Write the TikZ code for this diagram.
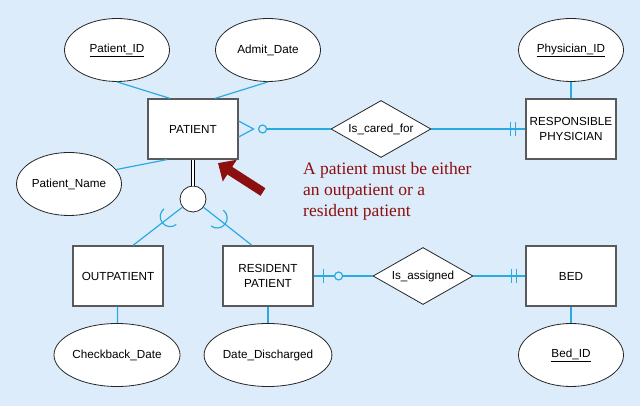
\documentclass[tikz,border=0pt]{standalone}
\usepackage{fontspec}
\setmainfont{Liberation Sans}
\newfontfamily\notefont{Liberation Serif}
\usetikzlibrary{positioning,shapes.geometric,arrows.meta,calc}
\definecolor{bgblue}{RGB}{221,236,251}
\definecolor{linkblue}{RGB}{41,171,226}
\definecolor{notered}{RGB}{140,16,16}
\definecolor{boxgray}{RGB}{90,90,90}

\begin{document}
\begin{tikzpicture}[x=1pt, y=1pt, font=\fontsize{11.7}{15.5}\selectfont,
  entity/.style={draw=boxgray, line width=1.2pt, fill=white, minimum width=90pt, minimum height=60pt, align=center},
  attr/.style={ellipse, draw=black!85, line width=0.8pt, fill=white, minimum width=105pt, minimum height=63pt, inner sep=0pt},
  rel/.style={diamond, aspect=1.77, draw=black!85, line width=0.8pt, fill=white, minimum width=100pt, minimum height=57pt, inner sep=0pt},
  link/.style={draw=linkblue, line width=1.2pt},
  pointer/.style={draw=notered, line width=9pt, -{Triangle[length=14pt,width=25pt]}}]
\fill[bgblue] (0,0) rectangle (640,406);
\useasboundingbox (0,0) rectangle (640,406);
% entities
\node[entity] (pat) at (193,277) {PATIENT};
\node[entity] (phys) at (571,277) {RESPONSIBLE\\PHYSICIAN};
\node[entity] (outp) at (118,130) {OUTPATIENT};
\node[entity] (res) at (268,130) {RESIDENT\\PATIENT};
\node[entity] (bed) at (571,130) {BED};
% attributes
\node[attr] (pid) at (117,356) {\underline{Patient\_ID}};
\node[attr] (adm) at (268,356) {Admit\_Date};
\node[attr] (pnm) at (69,222) {Patient\_Name};
\node[attr] (phid) at (571,356) {\underline{Physician\_ID}};
\node[attr] (chk) at (117,51) {Checkback\_Date};
\node[attr] (dis) at (268,51) {Date\_Discharged};
\node[attr] (bid) at (571,51) {\underline{Bed\_ID}};
% relationships
\node[rel] (care) at (381,277) {Is\_cared\_for};
\node[rel] (asg) at (423,130) {Is\_assigned};
\node[circle, draw=black!85, line width=0.8pt, fill=white, minimum size=26pt, inner sep=0pt] (d) at (193,207) {};

\draw[link] (pid.south) -- ([xshift=-23pt]pat.north);
\draw[link] (adm.south) -- ([xshift=22pt]pat.north);
\draw[link] (pnm.17) -- ([xshift=-26pt]pat.south);
\draw[link] (phid) -- (phys);
\draw[link] (outp) -- (chk);
\draw[link] (res) -- (dis);
\draw[link] (bed) -- (bid);

% patient -- is_cared_for -- physician
\draw[link] ([yshift=8pt]pat.east) -- ([xshift=15pt]pat.east) -- ([yshift=-8pt]pat.east);
\draw[link] ([xshift=24pt]pat.east) -- (care);
\draw[link, fill=bgblue] ([xshift=24pt]pat.east) circle (4pt);
\draw[link] (care) -- (phys);
\draw[link] ([xshift=-15pt,yshift=7pt]phys.west) -- ++(0,-14)
            ([xshift=-10pt,yshift=7pt]phys.west) -- ++(0,-14);

% resident -- is_assigned -- bed
\draw[link] (res) -- (asg);
\draw[link] ([xshift=10pt,yshift=7pt]res.east) -- ++(0,-14);
\draw[link, fill=bgblue] ([xshift=25pt]res.east) circle (4pt);
\draw[link] (asg) -- (bed);
\draw[link] ([xshift=-14pt,yshift=7pt]bed.west) -- ++(0,-14)
            ([xshift=-9pt,yshift=7pt]bed.west) -- ++(0,-14);

% subtypes
\draw[black, double=white, double distance=2.5pt, line width=0.8pt] (pat) -- (d);
\draw[link] (d) -- ([xshift=15pt]outp.north);
\draw[link] (d) -- ([xshift=-16pt]res.north);
\draw[link] ($(d)!0.38!([xshift=15pt]outp.north)$) ++(128:10) arc[start angle=128, end angle=308, radius=10];
\draw[link] ($(d)!0.41!([xshift=-16pt]res.north)$) ++(-128:10) arc[start angle=-128, end angle=52, radius=10];

% note
\node[anchor=north west, align=left, inner sep=0pt, text=notered,
      font=\notefont\fontsize{17.5}{21}\selectfont] (note) at (303,244)
  {A patient must be either\\an outpatient or a\\resident patient};
\coordinate (ptr) at (263,214);
\draw[pointer] (ptr) -- ([xshift=25pt,yshift=-3.5pt]pat.south);
\end{tikzpicture}
\end{document}
